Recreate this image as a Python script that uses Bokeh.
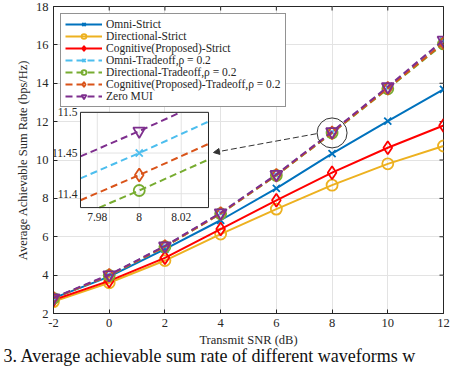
import numpy as np
from bokeh.plotting import figure
from bokeh.models import Range1d, Arrow, NormalHead, FixedTicker, Legend, LegendItem, Title
from bokeh.core.properties import value
from bokeh.embed import file_html
from bokeh.resources import INLINE

# ---------------- data ----------------
snr = [-2, 0, 2, 4, 6, 8, 10, 12]
omni_strict = [2.80, 3.92, 5.36, 6.86, 8.52, 10.33, 12.03, 13.68]
dir_strict = [2.62, 3.60, 4.76, 6.14, 7.44, 8.69, 9.80, 10.73]
cog_strict = [2.70, 3.70, 4.90, 6.40, 7.90, 9.34, 10.64, 11.80]
omni_trade = [2.81, 4.00, 5.50, 7.23, 9.23, 11.450, 13.79, 16.20]
dir_trade = [2.79, 3.98, 5.48, 7.20, 9.20, 11.404, 13.71, 16.05]
cog_trade = [2.80, 3.99, 5.49, 7.21, 9.21, 11.423, 13.74, 16.10]
zero_mui = [2.82, 4.02, 5.52, 7.25, 9.25, 11.477, 13.82, 16.25]

x_ticks = [-2, 0, 2, 4, 6, 8, 10, 12]
y_ticks = [2, 4, 6, 8, 10, 12, 14, 16, 18]
inset_x_ticks = [7.98, 8.0, 8.02]
inset_x_labels = ["7.98", "8", "8.02"]
inset_y_ticks = [11.4, 11.45, 11.5]
inset_y_labels = ["11.4", "11.45", "11.5"]

labels = ["Omni-Strict", "Directional-Strict", "Cognitive(Proposed)-Strict",
          "Omni-Tradeoff,\u03c1 = 0.2", "Directional-Tradeoff,\u03c1 = 0.2",
          "Cognitive(Proposed)-Tradeoff,\u03c1 = 0.2", "Zero MUI"]
caption = "3.  Average achievable sum rate of different waveforms w"

# ---------------- styles ----------------
FONT = "Liberation Serif"
TXT = "#262626"
series = [
    (omni_strict, labels[0], "#0072BD", "x", "solid"),
    (dir_strict, labels[1], "#EDB120", "circle", "solid"),
    (cog_strict, labels[2], "#FF0000", "diamond", "solid"),
    (omni_trade, labels[3], "#4DBEEE", "x", "7 4"),
    (dir_trade, labels[4], "#77AC30", "circle", "7 4"),
    (cog_trade, labels[5], "#D95319", "diamond", "7 4"),
    (zero_mui, labels[6], "#7E2F8E", "inverted_triangle", "7 4"),
]
msize = {"x": 10, "circle": 11, "diamond": 13, "inverted_triangle": 12}

p = figure(width=474, height=366, x_range=Range1d(-2, 12), y_range=Range1d(2, 18),
           output_backend="svg", toolbar_location=None,
           min_border_left=53, min_border_right=31, min_border_top=6, min_border_bottom=53)

p.background_fill_color = "white"
p.outline_line_color = TXT
p.outline_line_width = 1

for ax, lab, ticks in ((p.xaxis[0], "Transmit SNR (dB)", x_ticks),
                       (p.yaxis[0], "Average Achievable Sum Rate (bps/Hz)", y_ticks)):
    ax.ticker = FixedTicker(ticks=ticks)
    ax.axis_label = lab
    ax.axis_label_text_font = FONT
    ax.axis_label_text_font_size = "12.5px"
    ax.axis_label_text_font_style = "normal"
    ax.axis_label_text_color = TXT
    ax.major_label_text_font = FONT
    ax.major_label_text_font_size = "12.5px"
    ax.major_label_text_color = TXT
    ax.major_tick_in = 4
    ax.major_tick_out = 0
    ax.minor_tick_line_color = None
    ax.axis_line_color = TXT
    ax.major_tick_line_color = TXT

p.xaxis.major_label_overrides = {-2: "-2"}
p.xaxis.major_label_standoff = 5
p.xaxis.axis_label_standoff = 3
p.yaxis.major_label_standoff = 5
p.yaxis.axis_label_standoff = 3

p.grid.grid_line_color = "#e3e3e3"
p.grid.grid_line_width = 1
p.xgrid.ticker = FixedTicker(ticks=x_ticks)
p.ygrid.ticker = FixedTicker(ticks=y_ticks)

# caption of the source figure, cut off by the bottom edge as in the source
p.add_layout(Title(text=caption, align="left", offset=-50, standoff=-8,
                   vertical_align="top",
                   text_font=FONT, text_font_size="18px", text_font_style="normal",
                   text_color="#111111"), "below")

# top / right inward ticks (half of each dash is clipped by the frame)
p.scatter(x=x_ticks, y=[y_ticks[-1]] * len(x_ticks), marker="dash", angle=np.pi / 2,
          size=8, line_color=TXT, line_width=1)
p.scatter(x=[x_ticks[-1]] * len(y_ticks), y=y_ticks, marker="dash",
          size=8, line_color=TXT, line_width=1)

items = []
for ys, lab, col, mk, dash in series:
    r1 = p.line(snr, ys, line_color=col, line_width=2, line_dash=dash)
    r2 = p.scatter(snr, ys, marker=mk, size=msize[mk], line_color=col, line_width=1.8,
                   fill_color=None)
    items.append(LegendItem(label=lab, renderers=[r1, r2]))

legend = Legend(items=items, location="top_left", margin=7, padding=4, spacing=0,
                label_text_font=FONT, label_text_font_size="11.5px", label_text_color=TXT,
                label_height=12, glyph_height=12, glyph_width=37, label_standoff=4,
                border_line_color=TXT, border_line_width=1, background_fill_alpha=1)
p.add_layout(legend)

# ---------------- zoom marker ----------------
zoom_x = snr[5]
zoom_y = (zero_mui[5] + dir_trade[5]) / 2 - 0.03
p.scatter([zoom_x], [zoom_y], marker="circle", size=30, fill_color=None,
          line_color="#333333", line_width=1)

# ---------------- inset ----------------
ix = Range1d(7.972, 8.033)
iy = Range1d(11.383, 11.5)
tx = Range1d(-1.031, 3.564)
ty = Range1d(7.52, 12.484)
sub = p.subplot(x_source=ix, y_source=iy, x_target=tx, y_target=ty)

sub.quad(left=[ix.start], right=[ix.end], bottom=[iy.start], top=[iy.end],
         fill_color="white", line_color=None)
sub.segment(x0=inset_x_ticks, y0=[iy.start] * 3, x1=inset_x_ticks, y1=[iy.end] * 3,
            line_color="#e3e3e3", line_width=1)
sub.segment(x0=[ix.start] * 3, y0=inset_y_ticks, x1=[ix.end] * 3, y1=inset_y_ticks,
            line_color="#e3e3e3", line_width=1)


def clip_seg(xa, ya, xb, yb, x0, x1, y0, y1):
    dx, dy = xb - xa, yb - ya
    t0, t1 = 0.0, 1.0
    for pp, qq in ((-dx, xa - x0), (dx, x1 - xa), (-dy, ya - y0), (dy, y1 - ya)):
        if pp == 0:
            if qq < 0:
                return None
        else:
            r = qq / pp
            if pp < 0:
                t0 = max(t0, r)
            else:
                t1 = min(t1, r)
    if t0 > t1:
        return None
    return (xa + t0 * dx, ya + t0 * dy, xa + t1 * dx, ya + t1 * dy)


def clip_polyline(xs, ys, box):
    lines = []
    cur_x, cur_y = [], []
    for i in range(len(xs) - 1):
        c = clip_seg(xs[i], ys[i], xs[i + 1], ys[i + 1], *box)
        if c is None:
            continue
        if cur_x and abs(cur_x[-1] - c[0]) < 1e-12 and abs(cur_y[-1] - c[1]) < 1e-12:
            cur_x.append(c[2]); cur_y.append(c[3])
        else:
            if cur_x:
                lines.append((cur_x, cur_y))
            cur_x, cur_y = [c[0], c[2]], [c[1], c[3]]
    if cur_x:
        lines.append((cur_x, cur_y))
    return lines


box = (ix.start, ix.end, iy.start, iy.end)
for ys, lab, col, mk, dash in series[3:]:
    for lx, ly in clip_polyline(snr, ys, box):
        sub.line(lx, ly, line_color=col, line_width=2, line_dash=dash)
    pts = [(x, y) for x, y in zip(snr, ys)
           if ix.start <= x <= ix.end and iy.start <= y <= iy.end]
    if pts:
        sub.scatter([q[0] for q in pts], [q[1] for q in pts], marker=mk, size=msize[mk],
                    line_color=col, line_width=1.8, fill_color=None)

sub.quad(left=[ix.start], right=[ix.end], bottom=[iy.start], top=[iy.end],
         fill_color=None, line_color=TXT, line_width=1)
sub.text(x=inset_x_ticks, y=[iy.start] * 3, text=inset_x_labels, text_align="center",
         text_baseline="top", y_offset=5, text_font=value(FONT), text_font_size="11.5px",
         text_color=TXT)
sub.text(x=[ix.start] * 3, y=inset_y_ticks, text=inset_y_labels, text_align="right",
         text_baseline="middle", x_offset=-3, text_font=value(FONT), text_font_size="11.5px",
         text_color=TXT)

p.add_layout(Arrow(end=NormalHead(size=6, fill_color="#333333", line_color="#333333"),
                   x_start=zoom_x - 0.56, y_start=zoom_y - 0.04,
                   x_end=tx.end + 0.18, y_end=10.39,
                   line_color="#333333", line_width=1, line_dash="6 3"))

open("out.html", "w").write(file_html(p, INLINE))
